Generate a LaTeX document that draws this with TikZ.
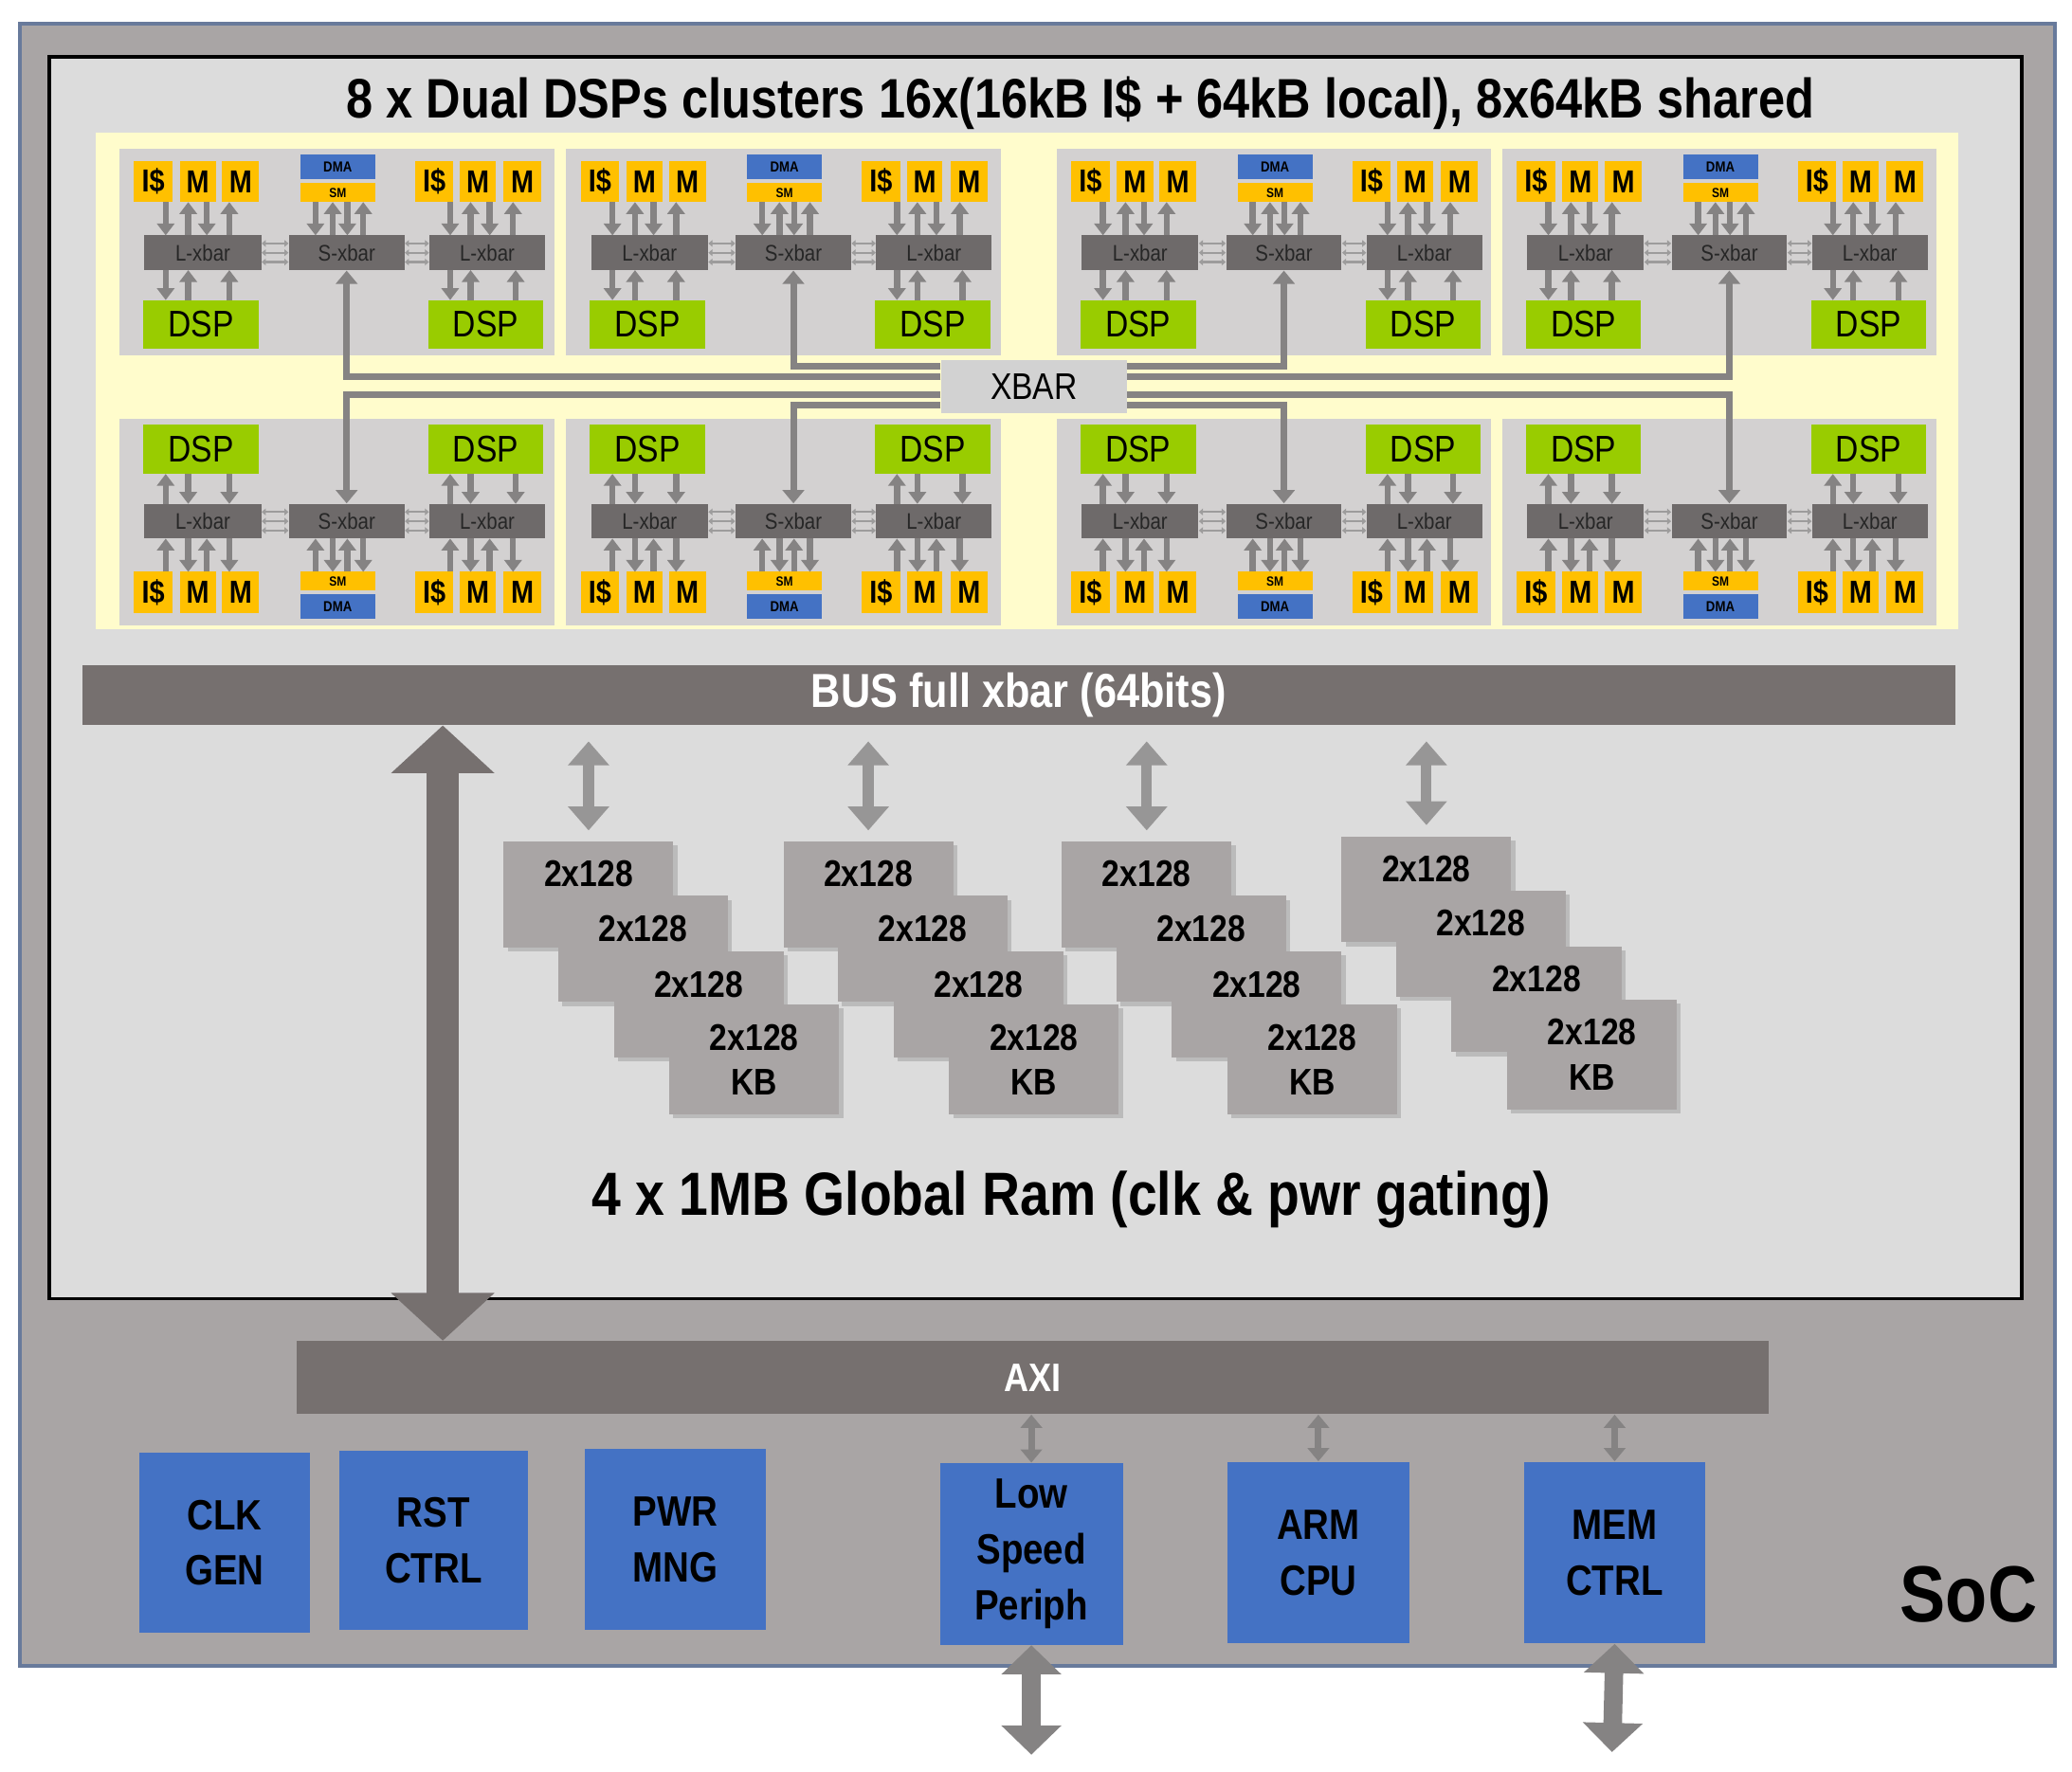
\documentclass[tikz,border=0pt]{standalone}
\usepackage{fontspec}
\setmainfont{Liberation Sans}[FakeStretch=0.86]
\usepackage{xcolor}
\usetikzlibrary{arrows.meta,shadows}

\definecolor{socgray}{HTML}{A9A5A5}
\definecolor{ingray}{HTML}{DCDCDC}
\definecolor{clgray}{HTML}{D3D1D1}
\definecolor{barcol}{HTML}{76706F}
\definecolor{xbcol}{HTML}{6E6A6A}
\definecolor{memcol}{HTML}{FFC000}
\definecolor{dspcol}{HTML}{99CC00}
\definecolor{bluecol}{HTML}{4472C4}
\definecolor{arrgray}{HTML}{858383}

% box from corner to corner: [style] name, x1, y1, x2, y2, text
\newcommand{\bx}[7][]{%
  \node[#1, inner sep=0pt, minimum width={abs((#5)-(#3))*0.5pt}, minimum height={abs((#6)-(#4))*0.5pt}]
    (#2) at ({((#3)+(#5))/2},{((#4)+(#6))/2}) {#7};}

% one dual DSP cluster: #1 x, #2 y, #3 yscale, #4 name
\newcommand{\cluster}[4]{%
  \begin{scope}[shift={(#1,#2)}, yscale=#3]
    \bx[clbg]{#4}{0}{0}{328}{156}{}
    \bx[mem]{#4ica}{11}{9.6}{40}{40.5}{I\$}
    \bx[mem]{#4maa}{45.6}{9.6}{72.8}{40.5}{M}
    \bx[mem]{#4mba}{77.6}{9.6}{105.5}{40.5}{M}
    \bx[mem]{#4icb}{223}{9.6}{252}{40.5}{I\$}
    \bx[mem]{#4mab}{257}{9.6}{284}{40.5}{M}
    \bx[mem]{#4mbb}{290}{9.6}{318}{40.5}{M}
    \bx[dma]{#4dma}{136.5}{4.8}{193}{23.4}{DMA}
    \bx[sm]{#4sm}{136.5}{26.2}{193}{40.5}{SM}
    \bx[xb]{#4lxa}{19}{65.6}{107}{91.8}{L-xbar}
    \bx[xb]{#4sx}{128}{65.6}{215}{91.8}{S-xbar}
    \bx[xb]{#4lxb}{234}{65.6}{321}{91.8}{L-xbar}
    \bx[dsp]{#4dspa}{18}{114.4}{105}{151.4}{DSP}
    \bx[dsp]{#4dspb}{233}{114.4}{320}{151.4}{DSP}
    \foreach \x in {35,66,148,172,249.6,279.4} \draw[sarr] (\x,40.5) -- (\x,65.6);
    \foreach \x in {52,83,161,184,265,297} \draw[sarr] (\x,65.6) -- (\x,40.5);
    \foreach \x in {35,249.6} \draw[sarr] (\x,91.8) -- (\x,114.4);
    \foreach \x in {52,83,265,299} \draw[sarr] (\x,114.4) -- (\x,91.8);
    \foreach \s in {-3.5pt,0pt,3.5pt} {
      \draw[tarr] ([yshift=\s]#4lxa.east) -- ([yshift=\s]#4sx.west);
      \draw[tarr] ([yshift=\s]#4sx.east) -- ([yshift=\s]#4lxb.west);
    }
  \end{scope}}

% one stack of four 2x128 KB banks: #1 x, #2 y, #3 name
\newcommand{\bank}[3]{%
  \bx[bk, label={[anchor=north,yshift=-4pt,font=\fontsize{14}{16}\selectfont\bfseries]north:2x128}]{#3a}{#1}{#2}{#1+128}{#2+80}{}
  \bx[bk, label={[anchor=north,yshift=-4pt,font=\fontsize{14}{16}\selectfont\bfseries]north:2x128}]{#3b}{#1+41}{#2+41}{#1+169}{#2+121}{}
  \bx[bk, label={[anchor=north,yshift=-4pt,font=\fontsize{14}{16}\selectfont\bfseries]north:2x128}]{#3c}{#1+83}{#2+83}{#1+211}{#2+163}{}
  \bx[bk]{#3d}{#1+125}{#2+123}{#1+253}{#2+206}{2x128\\[1pt]KB}}

\begin{document}
\begin{tikzpicture}[x=0.5pt, y=-0.5pt]
  % Define the styles
  \tikzstyle{clbg}=[fill=clgray]
  \tikzstyle{mem}=[fill=memcol, font=\fontsize{12}{12}\selectfont\bfseries]
  \tikzstyle{dma}=[fill=bluecol, font=\fontsize{5.5}{6}\selectfont\bfseries]
  \tikzstyle{sm}=[fill=memcol, font=\fontsize{5}{6}\selectfont\bfseries]
  \tikzstyle{xb}=[fill=xbcol, text=black!85, font=\fontsize{8.5}{9}\selectfont]
  \tikzstyle{dsp}=[fill=dspcol, font=\fontsize{14}{14}\selectfont]
  \tikzstyle{sarr}=[draw=arrgray, line width=2.3pt, -{Triangle[width=6.5pt,length=4.5pt]}]
  \tikzstyle{tarr}=[draw=arrgray!80, line width=0.8pt, {Triangle[width=2.5pt,length=1.5pt]}-{Triangle[width=2.5pt,length=1.5pt]}]
  \tikzstyle{xl}=[draw=arrgray, line width=2.5pt, -{Triangle[width=8pt,length=5pt]}]
  \tikzstyle{bar}=[fill=barcol, text=white, font=\fontsize{18}{18}\selectfont\bfseries]
  \tikzstyle{bk}=[fill=socgray, align=center, drop shadow={shadow xshift=1.5pt, shadow yshift=-1.5pt, opacity=0.35}, font=\fontsize{14}{16}\selectfont\bfseries]
  \tikzstyle{blk}=[fill=bluecol, align=center, font=\fontsize{16}{21}\selectfont\bfseries]
  \tikzstyle{marr}=[draw=arrgray!85, line width=4pt, {Triangle[width=15pt,length=9pt]}-{Triangle[width=15pt,length=9pt]}]
  \tikzstyle{aarr}=[draw=arrgray, line width=2.5pt, {Triangle[width=8pt,length=5pt]}-{Triangle[width=8pt,length=5pt]}]
  \tikzstyle{barr}=[draw=arrgray, line width=7pt, {Triangle[width=22pt,length=11pt]}-{Triangle[width=22pt,length=11pt]}]
  \tikzstyle{hugearr}=[draw=barcol, line width=12pt, {Triangle[width=38pt,length=18pt]}-{Triangle[width=38pt,length=18pt]}]

  \useasboundingbox (0,0) rectangle (1563,1337);

  % Define the frames
  \bx[fill=socgray, draw=bluecol!40!gray, line width=1.5pt]{soc}{15}{18}{1550}{1257}{}
  \bx[fill=ingray, draw=black, line width=1.3pt]{dsps}{37}{43}{1525}{980}{}
  \node[font=\fontsize{21}{24}\selectfont\bfseries] (title) at (815,78) {8 x Dual DSPs clusters 16x(16kB I\$ + 64kB local), 8x64kB shared};
  \bx[fill=yellow!20]{yel}{72}{100}{1477}{475}{}

  % Define the clusters
  \cluster{90}{112}{1}{cat}
  \cluster{427}{112}{1}{cbt}
  \cluster{797}{112}{1}{cct}
  \cluster{1133}{112}{1}{cdt}
  \cluster{90}{472}{-1}{cab}
  \cluster{427}{472}{-1}{cbb}
  \cluster{797}{472}{-1}{ccb}
  \cluster{1133}{472}{-1}{cdb}
  \bx[fill=gray!35, font=\fontsize{14}{14}\selectfont]{xbar}{710}{272}{850}{312}{XBAR}

  \draw[xl] ([yshift=4pt]xbar.west) -| (catsx.south);
  \draw[xl] ([yshift=8pt]xbar.west) -| (cbtsx.south);
  \draw[xl] ([yshift=8pt]xbar.east) -| (cctsx.south);
  \draw[xl] ([yshift=4pt]xbar.east) -| (cdtsx.south);
  \draw[xl] ([yshift=-3pt]xbar.west) -| (cabsx.north);
  \draw[xl] ([yshift=-7pt]xbar.west) -| (cbbsx.north);
  \draw[xl] ([yshift=-7pt]xbar.east) -| (ccbsx.north);
  \draw[xl] ([yshift=-3pt]xbar.east) -| (cdbsx.north);

  % Define the bus and the global ram
  \bx[bar]{bus}{62}{502}{1475}{547}{BUS full xbar (64bits)}
  \bank{380}{635}{ga}
  \bank{591}{635}{gb}
  \bank{801}{635}{gc}
  \bank{1012}{631}{gd}
  \draw[marr, shorten <=6pt, shorten >=4pt] (bus.south -| gaa.north) -- (gaa.north);
  \draw[marr, shorten <=6pt, shorten >=4pt] (bus.south -| gba.north) -- (gba.north);
  \draw[marr, shorten <=6pt, shorten >=4pt] (bus.south -| gca.north) -- (gca.north);
  \draw[marr, shorten <=6pt, shorten >=4pt] (bus.south -| gda.north) -- (gda.north);
  \node[font=\fontsize{23}{26}\selectfont\bfseries] (gram) at (808,905) {4 x 1MB Global Ram (clk \& pwr gating)};

  % Define the SoC part
  \bx[bar, font=\fontsize{15}{15}\selectfont\bfseries]{axi}{224}{1012}{1334}{1067}{AXI}
  \coordinate (lnk) at (334,0);
  \draw[hugearr] (bus.south -| lnk) -- (axi.north -| lnk);
  \bx[blk]{clk}{105}{1096}{234}{1232}{CLK\\GEN}
  \bx[blk]{rst}{256}{1095}{398}{1230}{RST\\CTRL}
  \bx[blk]{pwr}{441}{1093}{578}{1230}{PWR\\MNG}
  \bx[blk]{lsp}{709}{1104}{847}{1241}{Low\\Speed\\Periph}
  \bx[blk]{arm}{926}{1103}{1063}{1240}{ARM\\CPU}
  \bx[blk]{memc}{1150}{1103}{1286}{1240}{MEM\\CTRL}
  \draw[aarr] (axi.south -| lsp.north) -- (lsp.north);
  \draw[aarr] (axi.south -| arm.north) -- (arm.north);
  \draw[aarr] (axi.south -| memc.north) -- (memc.north);
  \coordinate (lspout) at (778,1324);
  \coordinate (memout) at (1216,1322);
  \draw[barr] (lsp.south) -- (lspout);
  \draw[barr] (memc.south) -- (memout);
  \node[font=\fontsize{30}{30}\selectfont\bfseries] (soclbl) at (1485,1203) {SoC};
\end{tikzpicture}
\end{document}
